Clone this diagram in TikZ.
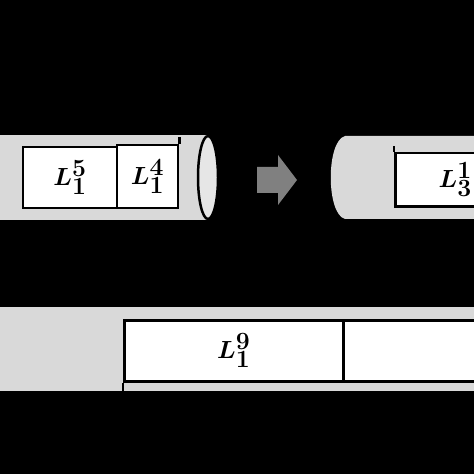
\documentclass[tikz,border=0pt]{standalone}
\usetikzlibrary{positioning}
\definecolor{tubegray}{HTML}{D9D9D9}
\definecolor{capgray}{HTML}{E6E6E6}
\definecolor{arrowgray}{HTML}{808080}
\DeclareMathSizes{32}{32}{23}{18}
\begin{document}
\begin{tikzpicture}[x=1bp,y=-1bp,
  cell/.style={draw, line width=2.5bp, fill=white, inner sep=0pt, minimum height=61bp,
    font=\fontsize{32}{38}\selectfont\boldmath},
  tube/.style={fill=tubegray}]
\clip (0,0) rectangle (474,474);
\fill[black] (0,0) rectangle (474,474);
% before: left tube with open end
\fill[tube] (0,135) rectangle (208,220);
\node[cell, minimum width=94bp] (l15) at (70,177.5) {$L_1^5$};
\node[cell, minimum width=61bp, minimum height=63bp] (l14) at (147.5,176.5) {$L_1^4$};
\draw[line width=2.5bp] (l14.north east) -- ++(0,-7);
\draw[fill=capgray, line width=2.5bp] (208,177.5) ellipse [x radius=10, y radius=41.5];
% step arrow
\fill[arrowgray] (257,167) -- (278,167) -- (278,155) -- (297,180) -- (278,205) -- (278,193) -- (257,193) -- cycle;
% after: right tube
\fill[tube] (474,136) -- (345,136) .. controls (326,141) and (326,214) .. (345,219) -- (474,219) -- cycle;
\node[cell, minimum width=120bp, minimum height=53bp, anchor=north west] (l31) at (394,152) {$L_3^1$};
\draw[line width=2.5bp] (l31.north west) -- ++(0,-6);
% bottom tube
\fill[tube] (0,307) rectangle (474,391);
\node[cell, minimum width=219bp, anchor=north west] (l19) at (123,319) {$L_1^9$};
\node[cell, minimum width=150bp, anchor=north west] (l1x) at (342,319) {};
\draw[line width=2.5bp] (l19.south west) -- ++(0,11);
\end{tikzpicture}
\end{document}
